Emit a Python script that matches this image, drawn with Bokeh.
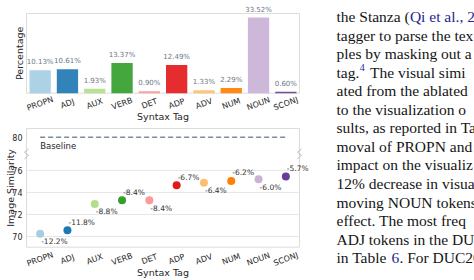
import math

from bokeh.core.properties import value
from bokeh.embed import file_html
from bokeh.layouts import column, row
from bokeh.models import ColumnDataSource, Range1d
from bokeh.plotting import figure
from bokeh.resources import INLINE

# ---------------------------------------------------------------- data
tags = ["PROPN", "ADJ", "AUX", "VERB", "DET", "ADP", "ADV", "NUM", "NOUN", "SCONJ"]
share_pct = [10.13, 10.61, 1.93, 13.37, 0.90, 12.49, 1.33, 2.29, 33.52, 0.60]
drop_pct = [-12.2, -11.8, -8.8, -8.4, -8.4, -6.7, -6.4, -6.2, -6.0, -5.7]
baseline = 80.0
sim_ticks = [70, 72, 74, 76]
colors = ["#a6cee3", "#1f78b4", "#b2df8a", "#33a02c", "#fb9a99",
          "#e31a1c", "#fdbf6f", "#ff7f00", "#cab2d6", "#6a3d9a"]

# similarity after ablating each tag, relative to the baseline
similarity = [baseline * (1 + d / 100.0) for d in drop_pct]
idx = list(range(len(tags)))

# the similarity axis is broken between 76 and 80: the baseline is drawn
# at 79 on the plotted scale and labelled "80"
BASE_POS = 79.0
BREAK_POS = 77.5

FONT = "DejaVu Sans"
TXT = "#262626"
FRAME = "#dcdcdc"
ANGLE = math.radians(20)

# ---------------------------------------------------------------- geometry
W_CHART = 325
PX = 27.3                      # pixels per category slot
LEFT = 26                      # left edge of the boxed plot area
X_START = -0.5 - LEFT / PX
X_END = X_START + W_CHART / PX
X_LO, X_HI = -0.5, len(tags) - 0.5

H_TOP, TOP_BOX = 125, (13.0, 92.7)       # box top / bottom rows
SHARE_MAX = 35.3
KY1 = (TOP_BOX[1] - TOP_BOX[0]) / SHARE_MAX
Y1 = Range1d(-(H_TOP - TOP_BOX[1]) / KY1, SHARE_MAX + TOP_BOX[0] / KY1)

H_BOT, BOT_BOX = 155, (3.0, 121.7)
SIM_LO, SIM_HI = 69.03, 79.8
KY2 = (BOT_BOX[1] - BOT_BOX[0]) / (SIM_HI - SIM_LO)
Y2 = Range1d(SIM_LO - (H_BOT - BOT_BOX[1]) / KY2, SIM_HI + BOT_BOX[0] / KY2)


def panel(height, y_range):
    p = figure(width=W_CHART, height=height, x_range=Range1d(X_START, X_END),
               y_range=y_range, output_backend="svg", toolbar_location=None,
               min_border=0)
    p.axis.visible = False
    p.grid.visible = False
    p.outline_line_color = None
    return p


def text(p, x, y, t, size, color=TXT, align="center", baseline="middle",
         angle=0.0, font=FONT):
    p.text(x=x, y=y, text=t, angle=angle, text_align=align,
           text_baseline=baseline, text_font=value(font),
           text_font_size=size, text_color=color)


def box(p, y0, y1):
    p.quad(left=[X_LO], right=[X_HI], bottom=[y0], top=[y1], fill_color=None,
           line_color=FRAME, line_width=1)


def category_axis(p, y0, ky, tick_off, title_off):
    text(p, idx, [y0 - tick_off / ky] * len(idx), tags, "8px", angle=ANGLE)
    text(p, [(X_LO + X_HI) / 2], [y0 - title_off / ky], ["Syntax Tag"], "9.5px")


def y_title(p, title, x_px, y_mid):
    text(p, [X_START + x_px / PX], [y_mid], [title], "9.5px", angle=math.pi / 2)


# ---------------------------------------------------------------- share of tags
top = panel(H_TOP, Y1)
box(top, 0, SHARE_MAX)
src = ColumnDataSource(dict(x=idx, share=share_pct, color=colors))
top.vbar(x="x", top="share", width=0.78, source=src, fill_color="color",
         fill_alpha=0.92, line_color=None)
text(top, idx, [v + 4 / KY1 for v in share_pct], [f"{v:.2f}%" for v in share_pct],
     "7px", color="#6b7785", baseline="bottom")
category_axis(top, 0, KY1, 10.5, 23.5)
y_title(top, "Percentage", 19, SHARE_MAX / 2)

# ---------------------------------------------------------------- similarity
bot = panel(H_BOT, Y2)
box(bot, SIM_LO, SIM_HI)
bot.segment(x0=[X_LO] * len(sim_ticks), x1=[X_HI] * len(sim_ticks),
            y0=sim_ticks, y1=sim_ticks, line_color="#e6e6e6", line_width=1)

tick_pos = sim_ticks + [BASE_POS]
tick_txt = [str(t) for t in sim_ticks] + [f"{baseline:.0f}"]
text(bot, [X_LO - 4 / PX] * len(tick_pos), tick_pos, tick_txt, "8px", align="right")
y_title(bot, "Image Similarity", 9.5, (SIM_LO + SIM_HI) / 2)

# axis-break marks on both sides of the box
for xb in (X_LO, X_HI):
    zx = [xb - 2 / PX, xb + 2 / PX, xb - 2 / PX, xb + 2 / PX]
    zy = [BREAK_POS - 5 / KY2, BREAK_POS - 1.5 / KY2,
          BREAK_POS + 1.5 / KY2, BREAK_POS + 5 / KY2]
    bot.line(x=zx, y=zy, line_color="#bdbdbd", line_width=1)

bot.line(x=[idx[0], idx[-1]], y=[BASE_POS, BASE_POS], line_color="#7b8b9a",
         line_width=1.5, line_dash="5 3")
text(bot, [idx[0]], [BASE_POS - 9 / KY2], ["Baseline"], "8.5px", align="left")

bot.scatter(x=idx, y=similarity, size=8, fill_color=colors, line_color=None)
side = [1 if i % 2 else -1 for i in idx]          # alternate above / below
text(bot, [i + 1 / PX for i in idx],
     [s + d * 8 / KY2 for s, d in zip(similarity, side)],
     [f"{v:.1f}%" for v in drop_pct], "7.5px", color="#333333", align="left")
category_axis(bot, SIM_LO, KY2, 12, 25)

# ---------------------------------------------------------------- running text
W_TXT = 474 - W_CHART
txt = figure(width=W_TXT, height=280, x_range=Range1d(0, W_TXT),
             y_range=Range1d(280, 0), output_backend="svg",
             toolbar_location=None, min_border=0)
txt.axis.visible = False
txt.grid.visible = False
txt.outline_line_color = None

BLACK = "#151515"
BLUE = "#26268f"
SERIF = "Liberation Serif"
X0 = 11
lines = [
    [(0, "the Stanza (", BLACK), (73.4, "Qi et al., 2", BLUE)],
    [(0, "tagger to parse the tex", BLACK)],
    [(0, "ples by masking out a", BLACK)],
    [(0, "tag.", BLACK), (33.5, "The visual simi", BLACK)],
    [(0, "ated from the ablated", BLACK)],
    [(0, "to the visualization o", BLACK)],
    [(0, "sults, as reported in Ta", BLACK)],
    [(0, "moval of PROPN and", BLACK)],
    [(0, "impact on the visualiz", BLACK)],
    [(0, "12% decrease in visua", BLACK)],
    [(0, "moving NOUN tokens", BLACK)],
    [(0, "effect. The most freq", BLACK)],
    [(0, "ADJ tokens in the DU", BLACK)],
    [(0, "in Table ", BLACK), (55.1, "6", BLUE), (62.9, ". For DUC20", BLACK)],
]
xs, ys, ts, cs = [], [], [], []
for i, runs in enumerate(lines):
    for dx, t, c in runs:
        xs.append(X0 + dx)
        ys.append(16 + 18.55 * i)
        ts.append(t)
        cs.append(c)
txt.text(x=xs, y=ys, text=ts, text_color=cs, text_font=value(SERIF),
         text_font_size="15.5px", text_align="left", text_baseline="middle")
# footnote marker
txt.text(x=[X0 + 23.3], y=[16 + 18.55 * 3 - 5], text=["4"], text_color=BLUE,
         text_font=value(SERIF), text_font_size="10px",
         text_align="left", text_baseline="middle")

layout = row(column(top, bot), txt)
open("out.html", "w").write(file_html(layout, INLINE))
